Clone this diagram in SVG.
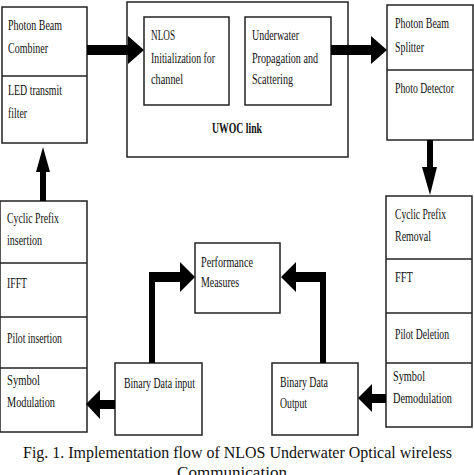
<svg xmlns="http://www.w3.org/2000/svg" width="474" height="475" viewBox="0 0 474 475">
<style>
.box{fill:#fff;stroke:#222;stroke-width:1.5}
.lbl{font-family:"Liberation Serif","Times New Roman",serif;font-size:15px;fill:#111}
.cap{font-family:"Liberation Serif","Times New Roman",serif;font-size:17px;fill:#111}
.arr{fill:#000}
</style>
<rect width="474" height="475" fill="#fff"/>
<g id="uwoc">
<rect class="box" x="127" y="2" width="221" height="155" stroke="#444"/>
<text class="lbl" x="212" y="133" textLength="50" lengthAdjust="spacingAndGlyphs" font-weight="bold" font-size="15">UWOC link</text>
</g>
<g id="nlos">
<rect class="box" x="144" y="17" width="85" height="88"/>
<text class="lbl" x="151" y="40" textLength="24" lengthAdjust="spacingAndGlyphs">NLOS</text>
<text class="lbl" x="151" y="63" textLength="64" lengthAdjust="spacingAndGlyphs">Initialization for</text>
<text class="lbl" x="151" y="84" textLength="32" lengthAdjust="spacingAndGlyphs">channel</text>
</g>
<g id="underwater">
<rect class="box" x="245" y="17" width="86" height="88"/>
<text class="lbl" x="252" y="40" textLength="47" lengthAdjust="spacingAndGlyphs">Underwater</text>
<text class="lbl" x="252" y="63" textLength="66" lengthAdjust="spacingAndGlyphs">Propagation and</text>
<text class="lbl" x="252" y="84" textLength="41" lengthAdjust="spacingAndGlyphs">Scattering</text>
</g>
<g id="tx-top">
<rect class="box" x="2" y="7" width="85" height="136"/>
<line x1="2" y1="76" x2="87" y2="76" stroke="#222" stroke-width="1.5"/>
<text class="lbl" x="8" y="30" textLength="54" lengthAdjust="spacingAndGlyphs">Photon Beam</text>
<text class="lbl" x="8" y="53" textLength="40" lengthAdjust="spacingAndGlyphs">Combiner</text>
<text class="lbl" x="8" y="95" textLength="54" lengthAdjust="spacingAndGlyphs">LED transmit</text>
<text class="lbl" x="8" y="118" textLength="19" lengthAdjust="spacingAndGlyphs">filter</text>
</g>
<g id="rx-top">
<rect class="box" x="387" y="5" width="86" height="135"/>
<line x1="387" y1="70" x2="473" y2="70" stroke="#222" stroke-width="1.5"/>
<text class="lbl" x="395" y="28" textLength="54" lengthAdjust="spacingAndGlyphs">Photon Beam</text>
<text class="lbl" x="395" y="52" textLength="29" lengthAdjust="spacingAndGlyphs">Splitter</text>
<text class="lbl" x="395" y="93" textLength="59" lengthAdjust="spacingAndGlyphs">Photo Detector</text>
</g>
<g id="tx-bottom">
<rect class="box" x="0" y="201" width="87" height="231"/>
<line x1="0" y1="263" x2="87" y2="263" stroke="#222" stroke-width="1.5"/>
<line x1="0" y1="317" x2="87" y2="317" stroke="#222" stroke-width="1.5"/>
<line x1="0" y1="368" x2="87" y2="368" stroke="#222" stroke-width="1.5"/>
<text class="lbl" x="7" y="223" textLength="52" lengthAdjust="spacingAndGlyphs">Cyclic Prefix</text>
<text class="lbl" x="7" y="245" textLength="35" lengthAdjust="spacingAndGlyphs">insertion</text>
<text class="lbl" x="7" y="288" textLength="20" lengthAdjust="spacingAndGlyphs">IFFT</text>
<text class="lbl" x="7" y="343" textLength="55" lengthAdjust="spacingAndGlyphs">Pilot insertion</text>
<text class="lbl" x="7" y="385" textLength="33" lengthAdjust="spacingAndGlyphs">Symbol</text>
<text class="lbl" x="7" y="407" textLength="48" lengthAdjust="spacingAndGlyphs">Modulation</text>
</g>
<g id="rx-bottom">
<rect class="box" x="386" y="196" width="86" height="231"/>
<line x1="386" y1="259" x2="472" y2="259" stroke="#222" stroke-width="1.5"/>
<line x1="386" y1="313" x2="472" y2="313" stroke="#222" stroke-width="1.5"/>
<line x1="386" y1="363" x2="472" y2="363" stroke="#222" stroke-width="1.5"/>
<text class="lbl" x="395" y="219" textLength="51" lengthAdjust="spacingAndGlyphs">Cyclic Prefix</text>
<text class="lbl" x="395" y="241" textLength="36" lengthAdjust="spacingAndGlyphs">Removal</text>
<text class="lbl" x="395" y="282" textLength="18" lengthAdjust="spacingAndGlyphs">FFT</text>
<text class="lbl" x="395" y="339" textLength="54" lengthAdjust="spacingAndGlyphs">Pilot Deletion</text>
<text class="lbl" x="393" y="381" textLength="32" lengthAdjust="spacingAndGlyphs">Symbol</text>
<text class="lbl" x="393" y="403" textLength="59" lengthAdjust="spacingAndGlyphs">Demodulation</text>
</g>
<g id="performance">
<rect class="box" x="195" y="243" width="85" height="70"/>
<text class="lbl" x="201" y="267" textLength="52" lengthAdjust="spacingAndGlyphs">Performance</text>
<text class="lbl" x="201" y="287" textLength="38" lengthAdjust="spacingAndGlyphs">Measures</text>
</g>
<g id="binary-input">
<rect class="box" x="115" y="363" width="87" height="72"/>
<text class="lbl" x="124" y="388" textLength="71" lengthAdjust="spacingAndGlyphs">Binary Data input</text>
</g>
<g id="binary-output">
<rect class="box" x="272" y="363" width="86" height="72"/>
<text class="lbl" x="280" y="387" textLength="48" lengthAdjust="spacingAndGlyphs">Binary Data</text>
<text class="lbl" x="280" y="408" textLength="27" lengthAdjust="spacingAndGlyphs">Output</text>
</g>
<g id="connectors">
<polygon class="arr" points="87,45 128,45 128,36 144,50 128,64 128,55 87,55"/>
<polygon class="arr" points="331,45 371,45 371,36 387,50 371,64 371,55 331,55"/>
<polygon class="arr" points="427,140 433,140 433,167 437,167 430,195 422,167 427,167"/>
<polygon class="arr" points="40,201 46,201 46,172 50,172 43,147 36,172 40,172"/>
<polygon class="arr" points="149,363 155,363 155,282 180,282 180,292 195,277 180,262 180,272 149,272"/>
<polygon class="arr" points="326,363 320,363 320,282 296,282 296,292 281,277 296,262 296,272 326,272"/>
<polygon class="arr" points="115,400 100,400 100,390 86,404 100,419 100,409 115,409"/>
<polygon class="arr" points="386,394 372,394 372,384 358,398 372,412 372,403 386,403"/>
</g>
<g id="caption">
<text class="cap" x="23" y="458" textLength="429" lengthAdjust="spacingAndGlyphs">Fig. 1. Implementation flow of NLOS Underwater Optical wireless</text>
<text class="cap" x="177" y="478" textLength="110" lengthAdjust="spacingAndGlyphs">Communication</text>
</g>
</svg>
